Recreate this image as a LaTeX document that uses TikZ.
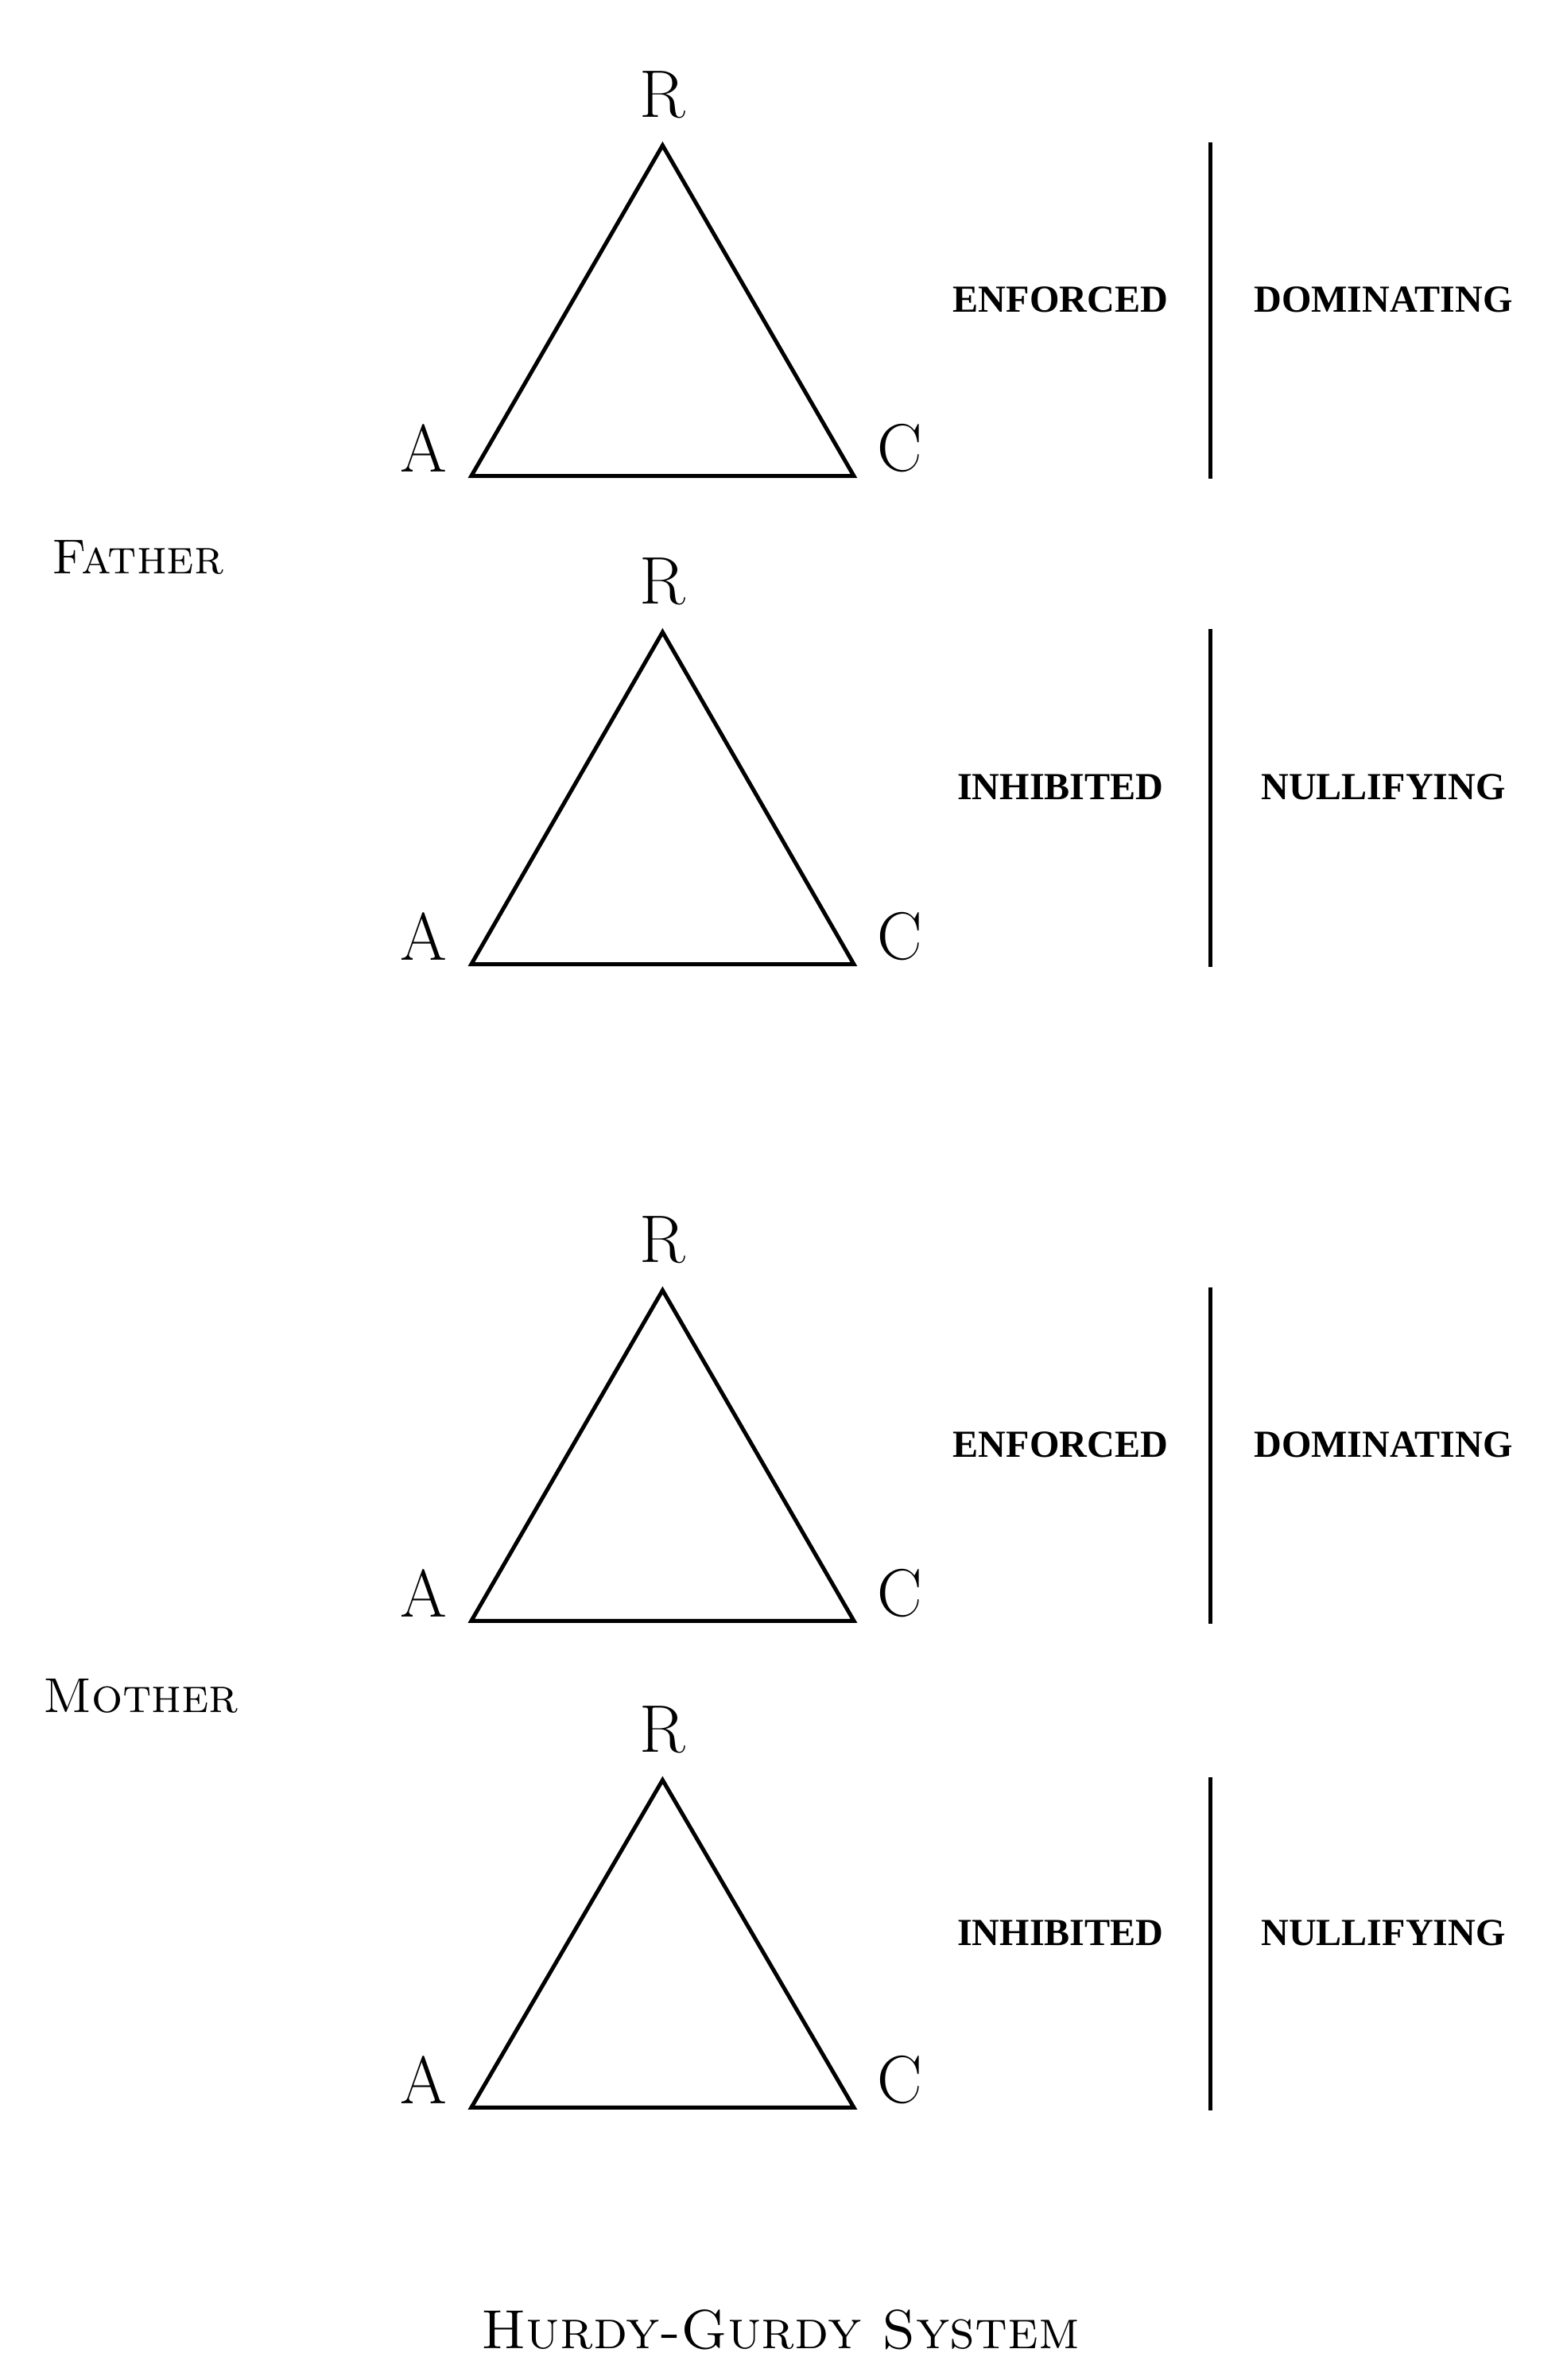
\documentclass[tikz,border=0pt]{standalone}
\usepackage{fontspec}
\newfontfamily\labfont{Liberation Serif}
\begin{document}
\begin{tikzpicture}[x=1pt,y=-1pt,
  tri/.style={line width=2.6pt,line join=miter},
  vtx/.style={font=\fontsize{44}{50}\selectfont,inner sep=0pt},
  lab/.style={font=\fontsize{25}{30}\selectfont\labfont\bfseries,inner sep=0pt},
  side/.style={font=\fontsize{32}{38}\selectfont\scshape,inner sep=0pt}]
\useasboundingbox (0,0) rectangle (1024,1555);
\foreach \t/\b/\l/\r/\n in {95/311/ENFORCED/DOMINATING/1,413/630/INHIBITED/NULLIFYING/2,843/1059/ENFORCED/DOMINATING/3,1163/1377/INHIBITED/NULLIFYING/4}{
  \coordinate (top\n) at (433,\t);
  \coordinate (a\n) at (308,\b);
  \coordinate (c\n) at (558,\b);
  \draw[tri] (top\n) -- (a\n) -- (c\n) -- cycle;
  \node[vtx] (R\n) at (433,\t-33) {R};
  \node[vtx] (A\n) at (277,\b-18) {A};
  \node[vtx] (C\n) at (588,\b-18) {C};
  \coordinate (l\n) at (791,\t-2);
  \coordinate (m\n) at (791,\b+2);
  \draw[line width=2.6pt] (l\n) -- (m\n);
  \node[lab] (L\n) at (693,{(\t+\b)/2-7}) {\l};
  \node[lab] (Q\n) at (904,{(\t+\b)/2-7}) {\r};
}
\node[side] (father) at (90,364) {Father};
\node[side] (mother) at (92,1108) {Mother};
\node[font=\fontsize{36}{42}\selectfont\scshape,inner sep=0pt] (title) at (510,1522) {Hurdy-Gurdy System};
\end{tikzpicture}
\end{document}
